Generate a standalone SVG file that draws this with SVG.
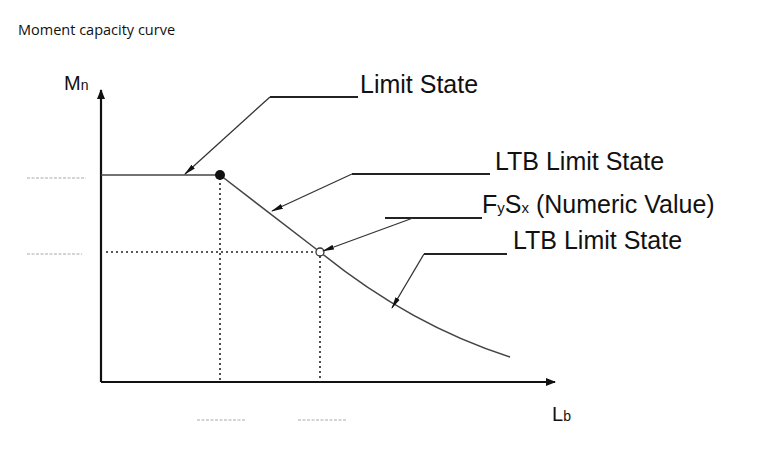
<svg xmlns="http://www.w3.org/2000/svg" width="761" height="469" viewBox="0 0 761 469">
<style>
text{font-family:"Liberation Sans",Arial,sans-serif;fill:#111}
.lbl{font-size:25px}
.ax{stroke:#111;stroke-width:2.2;fill:none}
.ln{stroke:#444;stroke-width:1.5;fill:none}
.dot{stroke:#222;stroke-width:1.6;stroke-dasharray:2 3;fill:none}
.gd{stroke:#aaa;stroke-width:1;stroke-dasharray:3 1.5}
.ld{stroke:#333;stroke-width:1.3;fill:none}
.ldh{stroke:#222;stroke-width:2;fill:none}
</style>
<defs>
<marker id="ah" markerWidth="10" markerHeight="8" refX="9" refY="4" orient="auto" markerUnits="userSpaceOnUse"><path d="M0,0L10,4L0,8z" fill="#111"/></marker>
<marker id="la" markerWidth="12" markerHeight="6" refX="11" refY="3" orient="auto" markerUnits="userSpaceOnUse"><path d="M0,0.5L12,3L0,5.5z" fill="#111"/></marker>
</defs>
<rect width="761" height="469" fill="#fff"/>
<text x="18" y="35" style="font-family:'Open Sans',sans-serif;font-size:14.5px">Moment capacity curve</text>
<g id="axes">
<line class="ax" x1="101" y1="382" x2="101" y2="90" marker-end="url(#ah)"/>
<line class="ax" x1="101" y1="382" x2="555" y2="382" marker-end="url(#ah)"/>
<text x="64" y="90" font-size="20">M<tspan font-size="14">n</tspan></text>
<text x="552" y="421" font-size="20">L<tspan font-size="14">b</tspan></text>
</g>
<g id="ticks">
<line class="gd" x1="27" y1="178" x2="86" y2="178"/>
<line class="gd" x1="27" y1="254" x2="82" y2="254"/>
<line class="gd" x1="197" y1="420" x2="245" y2="420"/>
<line class="gd" x1="298" y1="420" x2="346" y2="420"/>
</g>
<g id="curve">
<line class="ln" x1="101" y1="175" x2="220" y2="175"/>
<line class="ln" x1="220" y1="175" x2="320" y2="252"/>
<path class="ln" d="M320,252 Q410,325 510,357"/>
<line class="dot" x1="220" y1="178" x2="220" y2="382"/>
<line class="dot" x1="320" y1="256" x2="320" y2="382"/>
<line class="dot" x1="106" y1="252" x2="316" y2="252"/>
<circle cx="220" cy="175" r="5" fill="#111"/>
<circle cx="320" cy="252" r="4" fill="#fff" stroke="#333" stroke-width="1.3"/>
</g>
<g id="connectors">
<line class="ldh" x1="270" y1="97" x2="358" y2="97"/>
<line class="ld" x1="270" y1="97" x2="185" y2="174" marker-end="url(#la)"/>
<line class="ldh" x1="352" y1="174" x2="490" y2="174"/>
<line class="ld" x1="352" y1="174" x2="272" y2="211" marker-end="url(#la)"/>
<line class="ldh" x1="385" y1="218" x2="482" y2="218"/>
<line class="ld" x1="413" y1="218" x2="323" y2="251" marker-end="url(#la)"/>
<line class="ldh" x1="424" y1="254" x2="507" y2="254"/>
<line class="ld" x1="424" y1="254" x2="392" y2="308" marker-end="url(#la)"/>
</g>
<g id="labels">
<text class="lbl" x="360" y="93">Limit State</text>
<text class="lbl" x="495" y="170">LTB Limit State</text>
<text class="lbl" x="482" y="213" font-size="24">F<tspan font-size="15">y</tspan>S<tspan font-size="15">x</tspan> (Numeric Value)</text>
<text class="lbl" x="513" y="249">LTB Limit State</text>
</g>
</svg>
